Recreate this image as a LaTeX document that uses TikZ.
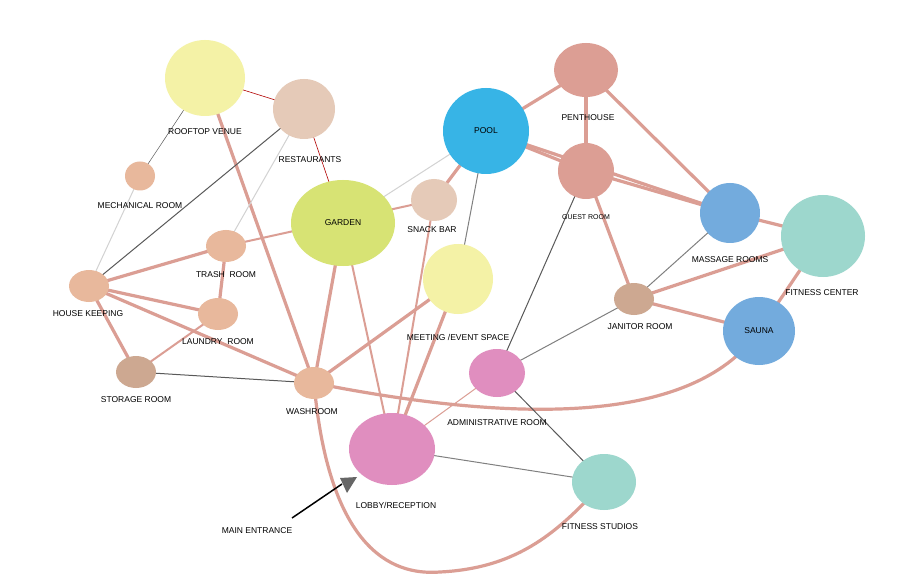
\documentclass[tikz,border=0pt]{standalone}
\usepackage{fontspec}
\setmainfont{Liberation Sans}
\begin{document}
\begin{tikzpicture}[x=1pt,y=-1pt,
  room/.style={ellipse,draw=none,inner sep=0pt},
  lbl/.style={font=\fontsize{8.5}{9}\selectfont,inner sep=0pt},
  thk/.style={draw=pk,line width=3.2pt},
  med/.style={draw=pk,line width=2pt},
  thn/.style={draw=gray!70!black,line width=1pt},
  lgt/.style={draw=gray!35,line width=1pt},
  crm/.style={draw=red!70!black,line width=0.6pt}]
\usetikzlibrary{shapes.geometric}
\definecolor{pk}{HTML}{DB9E94}
\definecolor{yel}{HTML}{F4F2A6}
\definecolor{bei}{HTML}{E5CAB8}
\definecolor{sal}{HTML}{E8B89C}
\definecolor{tan}{HTML}{CDA891}
\definecolor{grn}{HTML}{D7E374}
\definecolor{cy}{HTML}{37B4E6}
\definecolor{ros}{HTML}{DC9E94}
\definecolor{blu}{HTML}{73ABDD}
\definecolor{mint}{HTML}{9DD7CD}
\definecolor{mag}{HTML}{E08EBF}
\useasboundingbox (0,0) rectangle (912,585);
\fill[white] (0,0) rectangle (912,585);
% edges first
\coordinate (rt) at (205,78);
\coordinate (rs) at (304,109);
\coordinate (mc) at (140,176);
\coordinate (gd) at (343,223);
\coordinate (sb) at (434,200);
\coordinate (pl) at (486,131);
\coordinate (ph) at (586,70);
\coordinate (gr) at (586,171);
\coordinate (ms) at (730,213);
\coordinate (fc) at (823,236);
\coordinate (sa) at (759,331);
\coordinate (jn) at (634,299);
\coordinate (tr) at (226,246);
\coordinate (hk) at (89,286);
\coordinate (ld) at (218,314);
\coordinate (st) at (136,372);
\coordinate (wr) at (314,383);
\coordinate (me) at (458,279);
\coordinate (ad) at (497,373);
\coordinate (lb) at (392,449);
\coordinate (fs) at (604,482);
\draw[thk] (rt) -- (wr);
\draw[thk] (gd) -- (wr);
\draw[med] (gd) -- (lb);
\draw[med] (sb) -- (lb);
\draw[med] (tr) -- (sb);
\draw[thk] (hk) -- (tr);
\draw[thk] (hk) -- (ld);
\draw[thk] (hk) -- (wr);
\draw[thk] (hk) -- (st);
\draw[thk] (tr) -- (ld);
\draw[med] (ld) -- (st);
\draw[thn] (st) -- (wr);
\draw[thn] (hk) -- (rs);
\draw[lgt] (hk) -- (mc);
\draw[thn,line width=0.5pt] (mc) -- (rt);
\draw[lgt] (tr) -- (rs);
\draw[crm] (rt) -- (rs);
\draw[crm] (rs) -- (gd);
\draw[lgt] (gd) -- (pl);
\draw[thk] (sb) -- (pl);
\draw[thk] (me) -- (lb);
\draw[thk] (me) -- (wr);
\draw[thn,draw=gray] (pl) -- (me);
\draw[thk] (pl) -- (ph);
\draw[thk] (pl) -- (gr);
\draw[thk] (pl) -- (ms);
\draw[thk] (ph) -- (gr);
\draw[thk] (ph) -- (ms);
\draw[thk] (gr) -- (ms);
\draw[thk] (gr) -- (jn);
\draw[thn] (gr) -- (ad);
\draw[thn,draw=gray] (jn) -- (ms);
\draw[thk] (jn) -- (fc);
\draw[thk] (jn) -- (sa);
\draw[thn,draw=gray] (jn) -- (ad);
\draw[thk] (ms) -- (fc);
\draw[thk] (fc) -- (sa);
\draw[thk] (wr) .. controls (500,420) and (690,430) .. (sa);
\draw[thk] (wr) .. controls (330,560) and (400,575) .. (440,572) .. controls (520,568) and (560,530) .. (fs);
\draw[med,line width=1pt] (lb) -- (ad);
\draw[thn] (ad) -- (fs);
\draw[thn,draw=gray] (lb) -- (fs);
% nodes
\node[room,fill=yel,minimum width=80,minimum height=76] (nrt) at (rt) {};
\node[room,fill=bei,minimum width=62,minimum height=60] (nrs) at (rs) {};
\node[room,fill=sal,minimum width=30,minimum height=29] (nmc) at (mc) {};
\node[room,fill=grn,minimum width=104,minimum height=86] (ngd) at (gd) {\fontsize{8.5}{9}\selectfont GARDEN};
\node[room,fill=bei,minimum width=46,minimum height=42] (nsb) at (sb) {};
\node[room,fill=cy,minimum width=86,minimum height=86] (npl) at (pl) {\fontsize{8.5}{9}\selectfont POOL};
\node[room,fill=ros,minimum width=64,minimum height=54] (nph) at (ph) {};
\node[room,fill=ros,minimum width=56,minimum height=56] (ngr) at (gr) {};
\node[room,fill=blu,minimum width=60,minimum height=60] (nms) at (ms) {};
\node[room,fill=mint,minimum width=84,minimum height=82] (nfc) at (fc) {};
\node[room,fill=blu,minimum width=72,minimum height=68] (nsa) at (sa) {\fontsize{8.5}{9}\selectfont SAUNA};
\node[room,fill=tan,minimum width=40,minimum height=32] (njn) at (jn) {};
\node[room,fill=sal,minimum width=40,minimum height=32] (ntr) at (tr) {};
\node[room,fill=sal,minimum width=40,minimum height=32] (nhk) at (hk) {};
\node[room,fill=sal,minimum width=40,minimum height=32] (nld) at (ld) {};
\node[room,fill=tan,minimum width=40,minimum height=32] (nst) at (st) {};
\node[room,fill=sal,minimum width=40,minimum height=32] (nwr) at (wr) {};
\node[room,fill=yel,minimum width=70,minimum height=70] (nme) at (me) {};
\node[room,fill=mag,minimum width=56,minimum height=48] (nad) at (ad) {};
\node[room,fill=mag,minimum width=86,minimum height=72] (nlb) at (lb) {};
\node[room,fill=mint,minimum width=64,minimum height=56] (nfs) at (fs) {};
% labels
\node[lbl] (l1) at (205,132) {ROOFTOP VENUE};
\node[lbl] (l2) at (310,160) {RESTAURANTS};
\node[lbl] (l3) at (140,206) {MECHANICAL ROOM};
\node[lbl] (l4) at (432,230) {SNACK BAR};
\node[lbl] (l5) at (588,118) {PENTHOUSE};
\node[lbl,font=\fontsize{7}{8}\selectfont] (l6) at (586,217) {GUEST ROOM};
\node[lbl] (l7) at (730,260) {MASSAGE ROOMS};
\node[lbl] (l8) at (822,293) {FITNESS CENTER};
\node[lbl] (l9) at (640,327) {JANITOR ROOM};
\node[lbl] (l10) at (226,275) {TRASH\ \ ROOM};
\node[lbl] (l11) at (88,314) {HOUSE KEEPING};
\node[lbl] (l12) at (218,342) {LAUNDRY\ \ ROOM};
\node[lbl] (l13) at (136,400) {STORAGE ROOM};
\node[lbl] (l14) at (312,412) {WASHROOM};
\node[lbl] (l15) at (458,337) {MEETING /EVENT SPACE};
\node[lbl] (l16) at (497,423) {ADMINISTRATIVE ROOM};
\node[lbl] (l17) at (396,505) {LOBBY/RECEPTION};
\node[lbl] (l18) at (600,527) {FITNESS STUDIOS};
\node[lbl] (l19) at (257,531) {MAIN ENTRANCE};
\coordinate (me1) at (292,518);
\coordinate (me2) at (342,484);
\draw[line width=1.5pt] (me1) -- (me2);
\fill[gray!80!black] (340,478) -- (357,477) -- (347,493) -- cycle;
\end{tikzpicture}
\end{document}
